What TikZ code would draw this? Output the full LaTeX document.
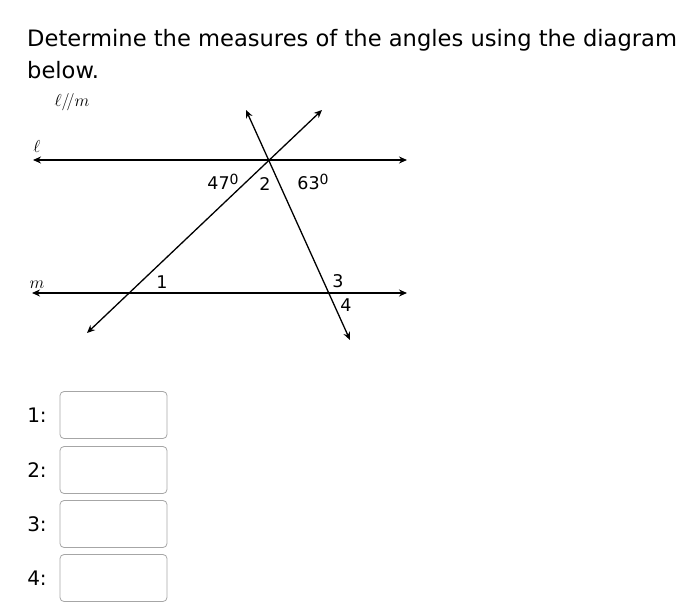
\documentclass[tikz,border=0pt]{standalone}
\usepackage{fontspec}
\setmainfont{DejaVu Sans}
\usetikzlibrary{arrows.meta}
\begin{document}
\begin{tikzpicture}[x=1pt,y=-1pt,
  ln/.style={line width=1.3pt,{Stealth[length=8pt,width=7pt]}-{Stealth[length=8pt,width=7pt]}},
  lab/.style={font=\fontsize{17.5}{19}\selectfont,inner sep=0pt},
  ans/.style={draw=gray!70,rounded corners=4pt,minimum width=107pt,minimum height=47pt,line width=0.8pt},
  qlab/.style={font=\fontsize{20}{24}\selectfont,inner sep=0pt}]
\useasboundingbox (0,0) rectangle (700,608);
\node[anchor=west,font=\fontsize{22.6}{26}\selectfont,inner sep=0pt] (t1) at (27,40) {Determine the measures of the angles using the diagram};
\node[anchor=west,font=\fontsize{22.6}{26}\selectfont,inner sep=0pt] (t2) at (27,70) {below.};
\node[font=\fontsize{19}{21}\selectfont,inner sep=0pt] (par) at (72,102) {$\ell/\!/m$};
\coordinate (l1) at (33,160); \coordinate (l2) at (407,160);
\coordinate (m1) at (32,293); \coordinate (m2) at (407,293);
\coordinate (a1) at (87,333); \coordinate (a2) at (322,110);
\coordinate (b1) at (246,110); \coordinate (b2) at (350,340);
\draw[ln] (l1) -- (l2);
\draw[ln] (m1) -- (m2);
\draw[ln] (a1) -- (a2);
\draw[ln] (b1) -- (b2);
\node[font=\fontsize{19}{21}\selectfont,inner sep=0pt] (ll) at (37,146) {$\ell$};
\node[font=\fontsize{19}{21}\selectfont,inner sep=0pt] (ml) at (37,285) {$m$};
\node[lab] (x47) at (223,182) {47\raisebox{0.55ex}{\fontsize{14}{15}\selectfont 0}};
\node[lab] (x2) at (265,184) {2};
\node[lab] (x63) at (313,182) {63\raisebox{0.55ex}{\fontsize{14}{15}\selectfont 0}};
\node[lab] (x1) at (162,282) {1};
\node[lab] (x3) at (338,281) {3};
\node[lab] (x4) at (346,305) {4};
\foreach \i/\y in {1/415,2/470,3/524,4/578}{
  \node[qlab] (q\i) at (37,\y) {\i:};
  \node[ans] (b\i) at (113.5,\y) {};
}
\end{tikzpicture}
\end{document}
